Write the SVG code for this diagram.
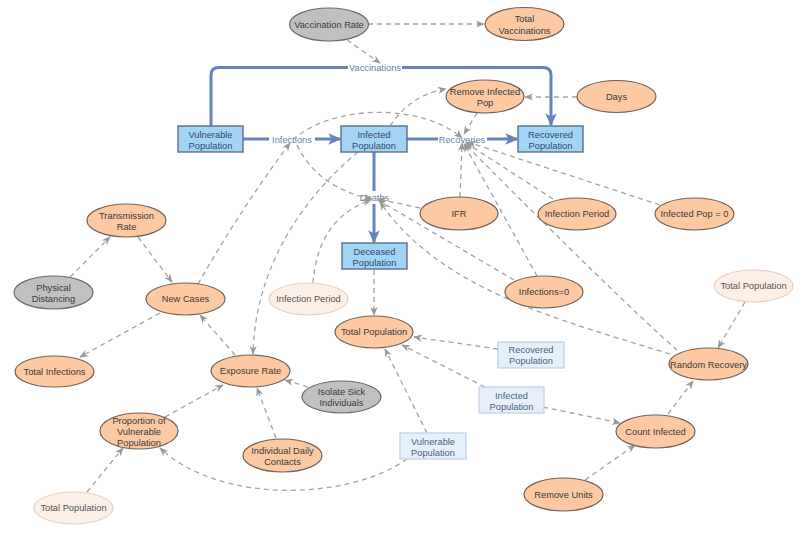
<svg xmlns="http://www.w3.org/2000/svg" width="800" height="536" viewBox="0 0 800 536">
<style>
text{font-family:"Liberation Sans","DejaVu Sans",sans-serif;font-size:9.3px;text-anchor:middle;dominant-baseline:central}
.aux ellipse{fill:#fdc9a3;stroke:#6f625a;stroke-width:1.2}
.aux text{fill:#3a3a3a}
.grey ellipse{fill:#c0c0c0;stroke:#6a6a6a;stroke-width:1.2}
.grey text{fill:#3a3a3a}
.gaux ellipse{fill:#fcefe6;stroke:#e5d2c4;stroke-width:1.2}
.gaux text{fill:#555}
.stock rect{fill:#a3d3f5;stroke:#5b6f88;stroke-width:1.4}
.stock text{fill:#2f4a6e}
.gstock rect{fill:#e5f0fb;stroke:#bcd0e4;stroke-width:1.2}
.gstock text{fill:#4f5f78}
.flow{fill:none;stroke:#6683c0;stroke-width:3}
.flab{fill:#6a80aa}
.link{fill:none;stroke:#a3a3a3;stroke-width:1.3;stroke-dasharray:5,4}
</style>
<defs>
<marker id="a" viewBox="0 0 10 10" refX="9" refY="5" markerWidth="9" markerHeight="9" markerUnits="userSpaceOnUse" orient="auto"><path d="M0,1 L10,5 L0,9 L3,5 z" fill="#999"/></marker>
<marker id="f" viewBox="0 0 10 10" refX="9" refY="5" markerWidth="13" markerHeight="13" markerUnits="userSpaceOnUse" orient="auto"><path d="M0,0.5 L10,5 L0,9.5 L2.5,5 z" fill="#6683c0"/></marker>
</defs>
<rect width="800" height="536" fill="#fff"/>

<g id="flows">
<path class="flow" d="M211,126 V75 Q211,67.5 219,67.5 H543 Q551,67.5 551,75 V125" marker-end="url(#f)"/>
<path class="flow" d="M243,139 H340" marker-end="url(#f)"/>
<path class="flow" d="M407,139 H517" marker-end="url(#f)"/>
<path class="flow" d="M374,152 V242" marker-end="url(#f)"/>
<rect x="348" y="61" width="54" height="13" fill="#fff"/>
<text class="flab" x="375" y="67.5">Vaccinations</text>
<rect x="269" y="133" width="46" height="13" fill="#fff"/>
<text class="flab" x="292" y="139.5">Infections</text>
<rect x="438" y="133" width="49" height="13" fill="#fff"/>
<text class="flab" x="462" y="139.5">Recoveries</text>
<rect x="359" y="191" width="31" height="13" fill="#fff"/>
<text class="flab" x="374.5" y="197.5">Deaths</text>
</g>

<g id="connectors">
<path class="link" d="M368,24 H484" marker-end="url(#a)"/>
<path class="link" d="M347,40 L380,63" marker-end="url(#a)"/>
<path class="link" d="M577,97 H525" marker-end="url(#a)"/>
<path class="link" d="M477,113 L464,134" marker-end="url(#a)"/>
<path class="link" d="M390,126 Q410,95 446,89" marker-end="url(#a)"/>
<path class="link" d="M293,140 C330,105 420,102 462,138" marker-end="url(#a)"/>
<path class="link" d="M297,145 Q318,188 372,199" marker-end="url(#a)"/>
<path class="link" d="M198,284 Q240,210 290,143" marker-end="url(#a)"/>
<path class="link" d="M358,152 C300,200 255,270 253,354" marker-end="url(#a)"/>
<path class="link" d="M313,283 Q318,218 371,200" marker-end="url(#a)"/>
<path class="link" d="M420,208 L378,199" marker-end="url(#a)"/>
<path class="link" d="M460,197 L462,143" marker-end="url(#a)"/>
<path class="link" d="M553,199 L466,143" marker-end="url(#a)"/>
<path class="link" d="M660,205 L468,142" marker-end="url(#a)"/>
<path class="link" d="M537,276 L464,144" marker-end="url(#a)"/>
<path class="link" d="M514,280 L378,200" marker-end="url(#a)"/>
<path class="link" d="M677,350 Q620,300 465,144" marker-end="url(#a)"/>
<path class="link" d="M670,354 C560,320 440,290 380,202" marker-end="url(#a)"/>
<path class="link" d="M374,270 V315" marker-end="url(#a)"/>
<path class="link" d="M498,349 L414,337" marker-end="url(#a)"/>
<path class="link" d="M485,387 L402,345" marker-end="url(#a)"/>
<path class="link" d="M427,433 L385,349" marker-end="url(#a)"/>
<path class="link" d="M543,407 L620,423" marker-end="url(#a)"/>
<path class="link" d="M585,480 L635,445" marker-end="url(#a)"/>
<path class="link" d="M668,414 L693,381" marker-end="url(#a)"/>
<path class="link" d="M745,302 L718,348" marker-end="url(#a)"/>
<path class="link" d="M407,459 C350,500 220,505 160,448" marker-end="url(#a)"/>
<path class="link" d="M87,492 L123,448" marker-end="url(#a)"/>
<path class="link" d="M165,417 L223,385" marker-end="url(#a)"/>
<path class="link" d="M276,438 L257,388" marker-end="url(#a)"/>
<path class="link" d="M308,387 L285,380" marker-end="url(#a)"/>
<path class="link" d="M235,355 L200,315" marker-end="url(#a)"/>
<path class="link" d="M160,313 L80,357" marker-end="url(#a)"/>
<path class="link" d="M70,277 L110,237" marker-end="url(#a)"/>
<path class="link" d="M138,237 L172,282" marker-end="url(#a)"/>
</g>

<g id="vulnerable-population" class="stock"><rect x="178" y="126" width="65" height="26"/><text x="210.5" y="135">Vulnerable</text><text x="210.5" y="146">Population</text></g>
<g id="infected-population" class="stock"><rect x="341" y="126" width="66" height="26"/><text x="374" y="135">Infected</text><text x="374" y="146">Population</text></g>
<g id="recovered-population" class="stock"><rect x="518" y="126" width="65" height="26"/><text x="550.5" y="135">Recovered</text><text x="550.5" y="146">Population</text></g>
<g id="deceased-population" class="stock"><rect x="342" y="243" width="65" height="26"/><text x="374.5" y="252">Deceased</text><text x="374.5" y="263">Population</text></g>

<g id="vaccination-rate" class="grey"><ellipse cx="329" cy="24.5" rx="39.5" ry="16.5"/><text x="329" y="25">Vaccination Rate</text></g>
<g id="total-vaccinations" class="aux"><ellipse cx="524.5" cy="24" rx="39.5" ry="16.5"/><text x="524.5" y="19">Total</text><text x="524.5" y="30.5">Vaccinations</text></g>
<g id="remove-infected-pop" class="aux"><ellipse cx="485" cy="96.5" rx="39" ry="16.5"/><text x="485" y="92">Remove Infected</text><text x="485" y="103">Pop</text></g>
<g id="days" class="aux"><ellipse cx="616.5" cy="96.5" rx="39.5" ry="16"/><text x="616.5" y="97">Days</text></g>
<g id="ifr" class="aux"><ellipse cx="459" cy="213.5" rx="39" ry="16.5"/><text x="459" y="214">IFR</text></g>
<g id="infection-period" class="aux"><ellipse cx="577" cy="214" rx="39" ry="16"/><text x="577" y="214">Infection Period</text></g>
<g id="infected-pop-0" class="aux"><ellipse cx="694.5" cy="214" rx="39.5" ry="16"/><text x="694.5" y="214">Infected Pop = 0</text></g>
<g id="infections-0" class="aux"><ellipse cx="544" cy="292" rx="39" ry="16"/><text x="544" y="292">Infections=0</text></g>
<g id="total-population-right" class="gaux"><ellipse cx="753.5" cy="286" rx="39.5" ry="16"/><text x="753.5" y="286">Total Population</text></g>
<g id="random-recovery" class="aux"><ellipse cx="708.5" cy="364" rx="39.5" ry="16"/><text x="708.5" y="364.5">Random Recovery</text></g>
<g id="recovered-population-ghost" class="gstock"><rect x="498" y="342" width="66" height="26"/><text x="531" y="350">Recovered</text><text x="531" y="361">Population</text></g>
<g id="infected-population-ghost" class="gstock"><rect x="479" y="387" width="65" height="26"/><text x="511.5" y="396">Infected</text><text x="511.5" y="407">Population</text></g>
<g id="vulnerable-population-ghost" class="gstock"><rect x="400" y="433" width="66" height="26"/><text x="433" y="442">Vulnerable</text><text x="433" y="453">Population</text></g>
<g id="count-infected" class="aux"><ellipse cx="655.5" cy="431.5" rx="39.5" ry="16.5"/><text x="655.5" y="432">Count Infected</text></g>
<g id="remove-units" class="aux"><ellipse cx="563.5" cy="494.5" rx="39.5" ry="16.5"/><text x="563.5" y="495">Remove Units</text></g>
<g id="total-population" class="aux"><ellipse cx="374" cy="332" rx="39" ry="16"/><text x="374" y="332">Total Population</text></g>
<g id="infection-period-ghost" class="gaux"><ellipse cx="308.5" cy="299" rx="39.5" ry="16"/><text x="308.5" y="299">Infection Period</text></g>
<g id="exposure-rate" class="aux"><ellipse cx="250.5" cy="371" rx="39.5" ry="16"/><text x="250.5" y="371">Exposure Rate</text></g>
<g id="isolate-sick-individuals" class="grey"><ellipse cx="341.5" cy="397" rx="39.5" ry="16"/><text x="341.5" y="392">Isolate Sick</text><text x="341.5" y="403">Individuals</text></g>
<g id="individual-daily-contacts" class="aux"><ellipse cx="282.5" cy="455.5" rx="39.5" ry="16.5"/><text x="282.5" y="451">Individual Daily</text><text x="282.5" y="462">Contacts</text></g>
<g id="proportion-of-vulnerable-population" class="aux"><ellipse cx="139" cy="431" rx="39" ry="18"/><text x="139" y="421">Proportion of</text><text x="139" y="432">Vulnerable</text><text x="139" y="443">Population</text></g>
<g id="total-population-left" class="gaux"><ellipse cx="73.5" cy="508" rx="39.5" ry="16"/><text x="73.5" y="508">Total Population</text></g>
<g id="total-infections" class="aux"><ellipse cx="54.5" cy="371.5" rx="39.5" ry="15.5"/><text x="54.5" y="372">Total Infections</text></g>
<g id="new-cases" class="aux"><ellipse cx="185.5" cy="299" rx="39.5" ry="16"/><text x="185.5" y="299">New Cases</text></g>
<g id="transmission-rate" class="aux"><ellipse cx="126.5" cy="220.5" rx="39.5" ry="16.5"/><text x="126.5" y="216">Transmission</text><text x="126.5" y="227">Rate</text></g>
<g id="physical-distancing" class="grey"><ellipse cx="53.5" cy="292.5" rx="39.5" ry="16.5"/><text x="53.5" y="288">Physical</text><text x="53.5" y="299">Distancing</text></g>
</svg>
